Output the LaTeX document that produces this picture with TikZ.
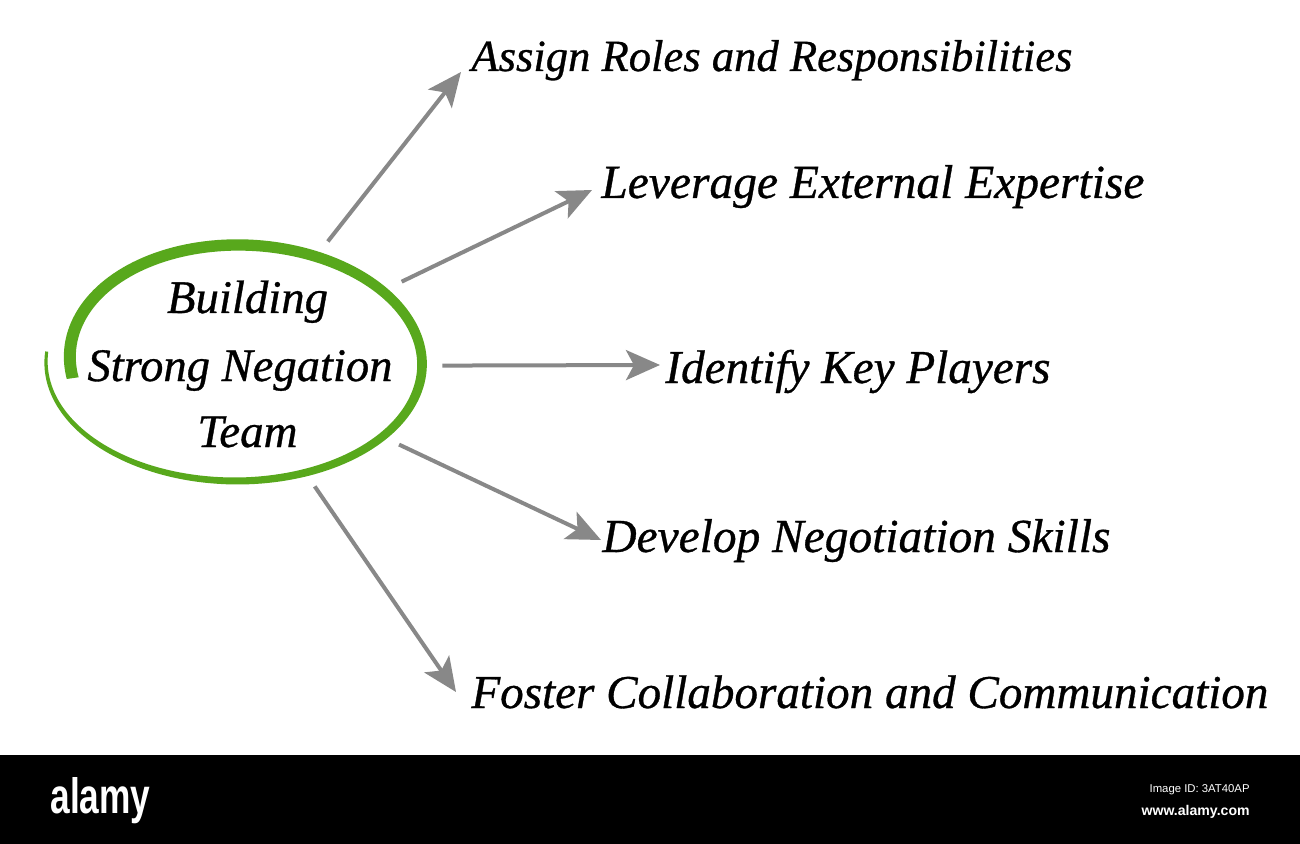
\documentclass[tikz,border=0pt]{standalone}
\usepackage{fontspec}
\setmainfont{Liberation Serif}
\setsansfont{Liberation Sans}
\newfontfamily\lblfont{Liberation Serif}[FakeBold=0.7]
\usetikzlibrary{arrows.meta,shapes.geometric}
\definecolor{ringgreen}{RGB}{88,168,28}
\definecolor{arrowgray}{RGB}{136,136,136}
\newcommand{\fitw}[2]{\resizebox{#1}{!}{#2}}
\begin{document}
\begin{tikzpicture}[x=0.5pt,y=-0.5pt,
  conn/.style={draw=arrowgray, line width=2pt, -{Stealth[length=17pt,width=15pt,inset=4pt]}},
  lbl/.style={inner sep=0pt, anchor=base west, font=\lblfont\itshape\fontsize{22.5}{26}\selectfont},
  ctr/.style={inner sep=0pt, anchor=base, font=\lblfont\itshape\fontsize{22.5}{26}\selectfont}]
\useasboundingbox (0,0) rectangle (1300,844);
\fill[white] (0,0) rectangle (1300,755);
\fill[black] (0,755) rectangle (1300,844);
% brush ring
\fill[ringgreen]
  plot[domain=172:545,samples=180,variable=\t]
   ({237+(191-24*((540-\t)/360)*((540-\t)/360)+(12-9*((\t-172)/373)*((\t-172)/373))/2)*cos(\t)},
    {362+(116+4*(\t-172)/373+(12-9*((\t-172)/373)*((\t-172)/373))/2)*sin(\t)})
  -- plot[domain=545:172,samples=180,variable=\t]
   ({237+(191-24*((540-\t)/360)*((540-\t)/360)-(12-9*((\t-172)/373)*((\t-172)/373))/2)*cos(\t)},
    {362+(116+4*(\t-172)/373-(12-9*((\t-172)/373)*((\t-172)/373))/2)*sin(\t)})
  -- cycle;
% hub
\node[ellipse, minimum width=205pt, minimum height=134pt, inner sep=0pt] (hub) at (237,362) {};
\node[ctr] (c1) at (247.5,313) {\fitw{80.5pt}{Building}};
\node[ctr] (c2) at (240,381) {\fitw{152.5pt}{Strong Negation}};
\node[ctr] (c3) at (247.5,447) {\fitw{50pt}{Team}};
% labels
\node[lbl] (t1) at (471,71) {\fitw{300.5pt}{Assign Roles and Responsibilities}};
\node[lbl] (t2) at (601,198) {\fitw{271.5pt}{Leverage External Expertise}};
\node[lbl] (t3) at (665,383) {\fitw{192.5pt}{Identify Key Players}};
\node[lbl] (t4) at (602,552) {\fitw{254pt}{Develop Negotiation Skills}};
\node[lbl] (t5) at (471,708) {\fitw{398.5pt}{Foster Collaboration and Communication}};
% connectors
\draw[conn] (hub.53) -- ([xshift=-5pt,yshift=-0.5pt]t1.base west);
\draw[conn] (hub.26) -- ([xshift=-4.5pt,yshift=4pt]t2.base west);
\draw[conn] (hub.-1) -- ([xshift=-2.5pt,yshift=9pt]t3.base west);
\draw[conn] (hub.-27) -- ([xshift=-0.5pt,yshift=6pt]t4.base west);
\draw[conn] (hub.-58) -- ([xshift=-7.5pt,yshift=8pt]t5.base west);
% watermark bar
\node[inner sep=0pt, anchor=base west, text=white, font=\sffamily\bfseries] (wm) at (50,813) {\resizebox{50pt}{18pt}{alamy}};
\node[inner sep=0pt, anchor=base east, text=white, font=\sffamily\fontsize{7.5}{9}\selectfont] (wid) at (1250,792) {\resizebox{50pt}{!}{Image ID: 3AT40AP}};
\node[inner sep=0pt, anchor=base east, text=white, font=\sffamily\bfseries\fontsize{8}{9}\selectfont] (wurl) at (1250,815) {\resizebox{54pt}{!}{www.alamy.com}};
\end{tikzpicture}
\end{document}
